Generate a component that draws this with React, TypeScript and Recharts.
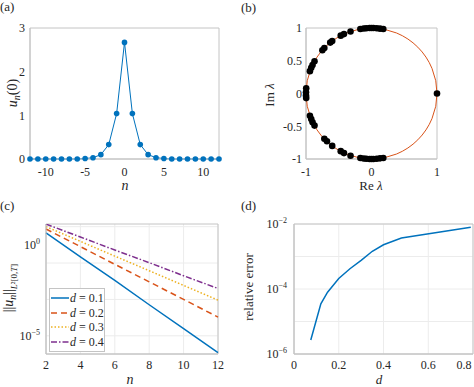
import React from "react";
import {
  LineChart,
  Line,
  XAxis,
  YAxis,
  ScatterChart,
  Scatter,
  ReferenceArea,
  ReferenceDot,
  CartesianGrid,
} from "recharts";

const FONT = '"Liberation Serif", "DejaVu Serif", serif';
const TEXT = "#262626";
const BOX = "#c4c4c4";
const GRID = "#ececec";
const BLUE = "#0072BD";
const ORANGE = "#D95319";
const YELLOW = "#EDB120";
const PURPLE = "#7E2F8E";

// (a) u_n(0)
const nValues = [-12, -11, -10, -9, -8, -7, -6, -5, -4, -3, -2, -1, 0, 1, 2, 3, 4, 5, 6, 7, 8, 9, 10, 11, 12];
const u0Values = [0, 0, 0, 0, 0, 0, 0, 0.01, 0.03, 0.1, 0.33, 1.04, 2.67, 1.04, 0.33, 0.1, 0.03, 0.01, 0, 0, 0, 0, 0, 0, 0];
const aTicksX = [-10, -5, 0, 5, 10];
const aTicksY = [0, 1, 2, 3];

// (b) eigenvalues
const eigRe = [
  -0.17, -0.12, -0.08, -0.03, 0, 0.03, 0.08, 0.13, 0.18,
  -0.32, -0.42, -0.47, -0.6, -0.63, -0.72, -0.75, -0.87, -0.9, -0.92, -0.94, -0.997, -1,
  -1, -0.997, -0.94, -0.92, -0.9, -0.87, -0.72, -0.68, -0.6, -0.47, -0.42, -0.32,
  -0.17, -0.12, -0.08, -0.03, 0, 0.03, 0.08, 0.13, 0.18,
  1,
];
const eigIm = [
  0.985, 0.993, 0.997, 1, 1, 1, 0.997, 0.99, 0.984,
  0.947, 0.907, 0.883, 0.8, 0.777, 0.694, 0.661, 0.493, 0.436, 0.392, 0.341, 0.08, 0.02,
  -0.03, -0.07, -0.34, -0.39, -0.44, -0.49, -0.69, -0.73, -0.8, -0.88, -0.91, -0.95,
  -0.985, -0.993, -0.997, -1, -1, -1, -0.997, -0.99, -0.984,
  0,
];
const bTicksX = [-1, 0, 1];
const bTicksY = [-1, -0.5, 0, 0.5, 1];

// (c) norms vs n
const nNorm = [2, 4, 6, 8, 10, 12];
const normD01 = [4.5, 0.22, 0.011, 5.1e-4, 2.5e-5, 1.2e-6];
const normD02 = [7.4, 0.8, 0.085, 0.0093, 0.001, 1.07e-4];
const normD03 = [10, 1.55, 0.24, 0.038, 0.0059, 9.1e-4];
const normD04 = [13.8, 2.7, 0.52, 0.105, 0.02, 0.004];
const cTicksX = [2, 4, 6, 8, 10, 12];
const cTicksY = [1e-5, 1];
const cGridY = [1e-6, 1e-5, 1e-4, 1e-3, 1e-2, 1e-1, 1, 10];

// (d) relative error vs d
const dValues = [0.075, 0.12, 0.15, 0.2, 0.25, 0.3, 0.35, 0.4, 0.48, 0.79];
const relErr = [2.7e-6, 3.5e-5, 8e-5, 2.1e-4, 4.2e-4, 7.6e-4, 1.45e-3, 2.3e-3, 3.7e-3, 7.9e-3];
const dTicksX = [0, 0.2, 0.4, 0.6, 0.8];
const dTicksY = [1e-6, 1e-4, 1e-2];
const dGridY = [1e-6, 1e-5, 1e-4, 1e-3, 1e-2];

const aData = nValues.map((n, i) => ({ n, u: u0Values[i] }));
const bData = eigRe.map((re, i) => ({ re, im: eigIm[i] }));
const cData = nNorm.map((n, i) => ({ n, d1: normD01[i], d2: normD02[i], d3: normD03[i], d4: normD04[i] }));
const eData = dValues.map((d, i) => ({ d, err: relErr[i] }));

const cSeries = [
  { key: "d1", label: "0.1", color: BLUE, dash: undefined as string | undefined },
  { key: "d2", label: "0.2", color: ORANGE, dash: "6 4" },
  { key: "d3", label: "0.3", color: YELLOW, dash: "1.5 2" },
  { key: "d4", label: "0.4", color: PURPLE, dash: "6 2 1.5 2" },
];

const B_PLOT = 131;

// plain tick text so the serif font is applied for sure
const NumTick = (props: any) => {
  const { x, y, payload, textAnchor, orientation } = props;
  const isY = orientation === "left";
  return (
    <text x={x} y={y} dy={isY ? "0.355em" : "0.75em"} textAnchor={textAnchor} fill={TEXT}
      fontFamily={FONT} fontSize={12}>
      {String(payload.value)}
    </text>
  );
};

const PowTick = (props: any) => {
  const { x, y, payload } = props;
  const e = Math.round(Math.log10(payload.value));
  return (
    <text x={x} y={y} dy="0.355em" textAnchor="end" fill={TEXT} fontFamily={FONT} fontSize={12}>
      <tspan>10</tspan>
      <tspan dy={-5} fontSize={8}>{e < 0 ? `\u2212${-e}` : `${e}`}</tspan>
    </text>
  );
};

const Titles = () => (
  <svg width={474} height={387} style={{ position: "absolute", left: 0, top: 0, pointerEvents: "none" }}
    fontFamily={FONT} fill={TEXT}>
    <text x={0} y={11} fontSize={13}>(a)</text>
    <text x={241} y={12} fontSize={13}>(b)</text>
    <text x={0} y={210} fontSize={13}>(c)</text>
    <text x={241} y={210} fontSize={13}>(d)</text>

    <text x={125} y={190} fontSize={14} fontStyle="italic" textAnchor="middle">n</text>
    <text x={371} y={190} fontSize={13} textAnchor="middle">Re <tspan fontStyle="italic">λ</tspan></text>
    <text x={130} y={384} fontSize={14} fontStyle="italic" textAnchor="middle">n</text>
    <text x={379} y={384} fontSize={13} fontStyle="italic" textAnchor="middle">d</text>

    <text x={17} y={93} fontSize={14} textAnchor="middle" transform="rotate(-90 17 93)">
      <tspan fontStyle="italic">u</tspan>
      <tspan fontStyle="italic" fontSize={10} dy={3}>n</tspan>
      <tspan dy={-3}>(0)</tspan>
    </text>
    <text x={274} y={95} fontSize={13} textAnchor="middle" transform="rotate(-90 274 95)">
      Im <tspan fontStyle="italic">λ</tspan>
    </text>
    <text x={13} y={288} fontSize={14} textAnchor="middle" transform="rotate(-90 13 288)">
      <tspan>||</tspan>
      <tspan fontStyle="italic">u</tspan>
      <tspan fontStyle="italic" fontSize={10} dy={3}>n</tspan>
      <tspan dy={-3}>||</tspan>
      <tspan fontSize={9} dy={4}><tspan fontStyle="italic">L</tspan>²[0,<tspan fontStyle="italic">T</tspan>]</tspan>
    </text>
    <text x={253} y={287} fontSize={13} textAnchor="middle" transform="rotate(-90 253 287)">
      relative error
    </text>
  </svg>
);

const NormLegend = () => (
  <div
    style={{
      position: "absolute",
      left: 49,
      top: 288,
      width: 54,
      padding: "2px 0",
      border: `1px solid ${BOX}`,
      background: "#fff",
      fontFamily: FONT,
      fontSize: 12,
      color: TEXT,
      lineHeight: "14.5px",
    }}
  >
    {cSeries.map((s) => (
      <div key={s.key} style={{ display: "flex", alignItems: "center", whiteSpace: "nowrap" }}>
        <svg width={18} height={8} style={{ marginLeft: 1, marginRight: 1 }}>
          <line x1={0} y1={4} x2={18} y2={4} stroke={s.color} strokeWidth={1.5} strokeDasharray={s.dash} />
        </svg>
        <span>
          <i>d</i> = {s.label}
        </span>
      </div>
    ))}
  </div>
);

export default function App() {
  return (
    <div style={{ position: "absolute", left: 0, top: 0, width: 474, height: 387, background: "#fff", fontFamily: FONT }}>
      <div style={{ position: "absolute", left: 0, top: 0 }}>
        <LineChart width={237} height={195} data={aData} margin={{ top: 28, right: 18, bottom: 16, left: 10 }}>
          <XAxis dataKey="n" type="number" domain={[-12, 12]} ticks={aTicksX} tick={<NumTick />}
            tickLine={false} tickSize={4} tickMargin={4} stroke={BOX} height={20} />
          <YAxis type="number" domain={[0, 3]} ticks={aTicksY} tick={<NumTick />}
            tickLine={false} tickSize={4} tickMargin={1} stroke={BOX} width={20} />
          <ReferenceArea x1={-12} x2={12} y1={0} y2={3} fill="none" stroke={BOX} />
          <Line dataKey="u" stroke={BLUE} strokeWidth={1} isAnimationActive={false}
            dot={{ r: 2.8, fill: BLUE, stroke: BLUE, strokeWidth: 0 }} />
        </LineChart>
      </div>

      <div style={{ position: "absolute", left: 237, top: 0 }}>
        <ScatterChart width={237} height={195} margin={{ top: 28, right: 37, bottom: 16, left: 39 }}>
          <XAxis dataKey="re" type="number" domain={[-1, 1]} ticks={bTicksX} tick={<NumTick />}
            tickLine={false} tickSize={4} tickMargin={4} stroke={BOX} height={20} />
          <YAxis dataKey="im" type="number" domain={[-1, 1]} ticks={bTicksY} tick={<NumTick />}
            tickLine={false} tickSize={4} tickMargin={0} stroke={BOX} width={30} />
          <ReferenceArea x1={-1} x2={1} y1={-1} y2={1} fill="none" stroke={BOX} />
          <ReferenceDot x={0} y={0} isFront={false}
            shape={(p: any) => <circle cx={p.cx} cy={p.cy} r={B_PLOT / 2} fill="none" stroke={ORANGE} strokeWidth={1} />} />
          <Scatter data={bData} isAnimationActive={false} fill="#000"
            shape={(p: any) => <circle cx={p.cx} cy={p.cy} r={3.3} fill="#000" />} />
        </ScatterChart>
      </div>

      <div style={{ position: "absolute", left: 0, top: 195 }}>
        <LineChart width={237} height={192} data={cData} margin={{ top: 29, right: 19, bottom: 13, left: 16 }}>
          <CartesianGrid stroke={GRID} horizontalValues={cGridY} verticalValues={cTicksX} />
          <XAxis dataKey="n" type="number" domain={[2, 12]} ticks={cTicksX} tick={<NumTick />}
            tickLine={false} tickSize={4} tickMargin={2} stroke={BOX} height={20} />
          <YAxis type="number" scale="log" domain={[1e-6, 14]} allowDataOverflow ticks={cTicksY}
            tick={<PowTick />} tickLine={false} tickSize={4} tickMargin={2} stroke={BOX} width={30} />
          <ReferenceArea x1={2} x2={12} y1={1e-6} y2={14} fill="none" stroke={BOX} />
          {cSeries.map((s) => (
            <Line key={s.key} dataKey={s.key} stroke={s.color} strokeWidth={1.5} strokeDasharray={s.dash}
              dot={false} isAnimationActive={false} />
          ))}
        </LineChart>
      </div>

      <div style={{ position: "absolute", left: 237, top: 195 }}>
        <LineChart width={237} height={192} data={eData} margin={{ top: 29, right: 1, bottom: 13, left: 23 }}>
          <CartesianGrid stroke={GRID} horizontalValues={dGridY} verticalValues={dTicksX} />
          <XAxis dataKey="d" type="number" domain={[0, 0.8]} ticks={dTicksX} tick={<NumTick />}
            tickLine={false} tickSize={4} tickMargin={2} stroke={BOX} height={20} />
          <YAxis type="number" scale="log" domain={[1e-6, 1e-2]} allowDataOverflow ticks={dTicksY}
            tick={<PowTick />} tickLine={false} tickSize={4} tickMargin={3} stroke={BOX} width={34} />
          <ReferenceArea x1={0} x2={0.8} y1={1e-6} y2={1e-2} fill="none" stroke={BOX} />
          <Line dataKey="err" stroke={BLUE} strokeWidth={1.5} dot={false} isAnimationActive={false} />
        </LineChart>
      </div>

      <NormLegend />
      <Titles />
    </div>
  );
}
